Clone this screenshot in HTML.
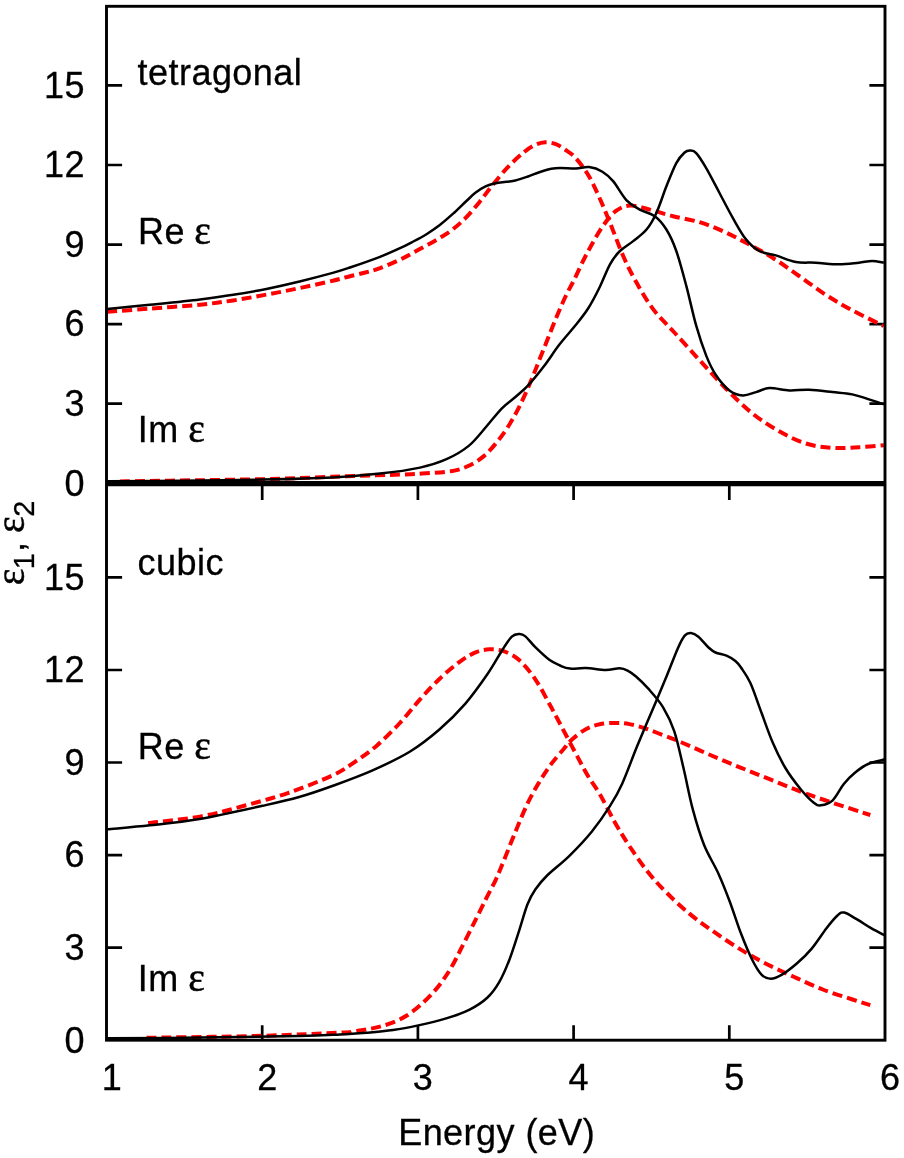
<!DOCTYPE html>
<html lang="en"><head><meta charset="utf-8"><title>Dielectric function</title>
<style>html,body{margin:0;padding:0;background:#fff}svg{display:block}</style></head>
<body>
<svg width="904" height="1158" viewBox="0 0 904 1158">
<rect width="904" height="1158" fill="#fff"/>
<clipPath id="ct"><rect x="106.5" y="6.3" width="778.5" height="479.0"/></clipPath>
<clipPath id="cb"><rect x="106.5" y="483.3" width="778.5" height="558.9"/></clipPath>
<path d="M106.5 403.7h15.6M885.0 403.7h-15.6M106.5 324.1h15.6M885.0 324.1h-15.6M106.5 244.6h15.6M885.0 244.6h-15.6M106.5 165.0h15.6M885.0 165.0h-15.6M106.5 85.4h15.6M885.0 85.4h-15.6M106.5 947.6h15.6M885.0 947.6h-15.6M106.5 855.1h15.6M885.0 855.1h-15.6M106.5 762.5h15.6M885.0 762.5h-15.6M106.5 670.0h15.6M885.0 670.0h-15.6M106.5 577.4h15.6M885.0 577.4h-15.6M262.2 1040.2v-15.0M262.2 484.3v15.8M417.9 1040.2v-15.0M417.9 484.3v15.8M573.6 1040.2v-15.0M573.6 484.3v15.8M729.3 1040.2v-15.0M729.3 484.3v15.8" stroke="#000" fill="none" stroke-width="2.7"/>
<path d="M107.3 311.8C114.4 311.3 134.4 309.8 149.8 308.6C165.2 307.4 186.1 306.1 200.0 304.7C213.9 303.3 222.1 302.1 233.2 300.4C244.3 298.7 255.3 296.7 266.4 294.6C277.5 292.6 288.6 290.4 299.6 288.1C310.7 285.8 324.3 282.7 332.7 280.7C341.1 278.7 344.4 277.6 350.0 276.2C355.6 274.8 361.4 273.6 366.4 272.3C371.4 271.0 374.4 270.3 380.0 268.2C385.6 266.1 394.4 262.2 400.0 259.6C405.6 257.0 408.9 255.0 413.3 252.6C417.7 250.2 422.1 247.8 426.5 245.4C430.9 243.0 435.4 240.6 439.8 237.9C444.2 235.2 448.7 232.6 453.1 229.1C457.5 225.6 462.0 221.7 466.4 217.2C470.8 212.7 475.4 207.0 479.6 201.9C483.8 196.8 486.9 192.2 491.5 186.5C496.1 180.8 502.1 173.2 507.4 167.6C512.7 161.9 518.8 156.4 523.4 152.6C528.0 148.8 531.6 146.6 535.3 144.9C538.9 143.2 542.0 142.5 545.3 142.3C548.6 142.1 551.9 142.7 555.2 143.9C558.5 145.1 561.6 147.1 565.0 149.5C568.4 151.9 571.8 153.6 575.8 158.1C579.8 162.6 585.1 169.6 589.1 176.4C593.1 183.2 596.5 191.3 600.0 199.0C603.5 206.7 606.1 213.3 610.0 222.8C613.9 232.3 618.8 246.0 623.2 256.0C627.6 266.0 631.5 273.8 636.5 282.6C641.5 291.5 647.0 301.0 653.1 309.1C659.2 317.2 665.2 322.5 673.0 331.0C680.8 339.5 690.8 350.6 699.6 360.2C708.5 369.8 717.2 379.9 726.1 388.8C735.0 397.7 743.9 406.6 752.7 413.7C761.6 420.8 770.4 426.3 779.2 431.3C788.1 436.3 796.9 440.7 805.8 443.5C814.6 446.3 823.4 447.3 832.3 447.9C841.1 448.5 850.3 447.6 858.9 447.2C867.5 446.8 879.6 445.5 883.8 445.2" fill="none" stroke="#f00" stroke-width="4" stroke-dasharray="10 5" clip-path="url(#ct)"/>
<path d="M120.0 481.4C133.3 481.2 173.5 480.6 200.0 480.2C226.5 479.8 254.8 479.5 279.0 478.8C303.2 478.1 324.8 476.9 345.0 476.2C365.2 475.5 387.1 475.0 400.0 474.6C412.9 474.2 413.7 474.2 422.2 473.6C430.7 473.0 443.2 472.5 451.0 471.2C458.8 469.9 463.2 468.4 468.7 465.8C474.2 463.2 479.4 459.9 484.2 455.9C489.0 451.8 493.3 446.5 497.4 441.5C501.4 436.5 504.8 431.9 508.5 426.0C512.2 420.1 515.9 413.5 519.6 406.1C523.3 398.7 527.3 389.6 530.6 381.8C533.9 374.1 536.5 367.0 539.5 359.6C542.5 352.2 545.3 344.9 548.3 337.5C551.2 330.1 554.2 322.4 557.2 315.4C560.2 308.4 563.2 301.3 566.0 295.5C568.8 289.7 570.2 287.6 573.8 280.5C577.3 273.4 582.5 261.6 587.3 252.7C592.1 243.8 597.7 233.7 602.4 226.8C607.1 219.9 611.0 214.7 615.6 211.2C620.2 207.7 624.2 205.9 629.9 205.6C635.6 205.3 642.6 207.8 649.8 209.6C657.0 211.4 664.7 214.1 673.0 216.2C681.3 218.3 691.3 219.7 699.6 222.2C707.9 224.7 715.1 227.7 722.8 231.1C730.5 234.5 737.7 238.4 746.0 242.8C754.3 247.2 763.8 252.2 772.6 257.7C781.5 263.2 790.2 269.8 799.1 276.0C808.0 282.2 816.9 289.1 825.7 294.8C834.6 300.5 842.5 305.1 852.2 310.3C861.9 315.5 878.5 323.4 883.8 326.0" fill="none" stroke="#f00" stroke-width="4" stroke-dasharray="10 5" clip-path="url(#ct)"/>
<path d="M107.3 309.1C114.4 308.4 134.4 306.4 149.8 304.8C165.2 303.2 186.1 301.1 200.0 299.4C213.9 297.7 222.1 296.6 233.2 294.8C244.3 293.1 255.3 291.1 266.4 288.9C277.5 286.7 288.6 284.2 299.6 281.5C310.7 278.8 324.3 275.2 332.7 272.9C341.1 270.6 342.1 270.2 350.0 267.5C357.9 264.8 371.7 260.0 380.0 256.8C388.3 253.6 394.4 250.8 400.0 248.2C405.6 245.6 408.9 243.8 413.3 241.5C417.7 239.2 422.1 236.9 426.5 234.2C430.9 231.4 435.4 228.4 439.8 225.0C444.2 221.6 448.7 217.7 453.1 213.7C457.5 209.7 462.6 204.5 466.4 201.0C470.2 197.5 472.5 195.0 475.7 192.6C478.9 190.2 482.2 187.9 485.5 186.4C488.8 184.9 492.2 184.1 495.6 183.3C499.1 182.5 502.9 182.3 506.2 181.8C509.5 181.3 511.9 181.3 515.4 180.5C518.9 179.7 523.4 178.1 527.4 176.7C531.4 175.3 535.3 173.5 539.3 172.2C543.3 170.9 547.8 169.5 551.3 168.8C554.8 168.1 555.9 168.0 560.0 167.9C564.1 167.8 570.9 168.5 575.8 168.4C580.6 168.3 584.7 166.6 589.1 167.1C593.5 167.6 598.4 169.3 602.4 171.7C606.4 174.1 609.3 176.6 613.3 181.4C617.3 186.2 622.2 195.6 626.6 200.3C631.0 205.0 635.1 206.9 639.8 209.6C644.5 212.2 650.4 212.9 654.8 216.2C659.2 219.5 662.8 223.7 666.4 229.5C670.0 235.3 673.0 241.6 676.3 251.0C679.6 260.4 683.0 273.4 686.3 285.9C689.6 298.3 692.9 314.1 696.2 325.7C699.5 337.3 702.9 347.3 706.2 355.6C709.5 363.9 712.3 369.7 716.2 375.5C720.1 381.3 725.0 387.1 729.4 390.4C733.8 393.7 738.3 395.1 742.7 395.4C747.1 395.7 751.6 393.3 756.0 392.1C760.4 390.9 763.8 388.4 769.3 388.1C774.8 387.8 782.6 390.1 789.2 390.4C795.8 390.7 801.9 389.5 809.1 389.8C816.3 390.1 825.1 391.3 832.3 392.1C839.5 392.9 845.6 393.0 852.2 394.4C858.8 395.8 866.8 398.7 872.1 400.4C877.4 402.1 881.8 403.7 883.8 404.4" fill="none" stroke="#000" stroke-width="2.5" stroke-linejoin="round" clip-path="url(#ct)"/>
<path d="M107.3 481.3C119.4 481.2 154.1 481.1 180.0 480.8C205.9 480.5 237.2 480.2 262.6 479.6C288.0 479.1 312.7 478.5 332.3 477.5C351.9 476.5 365.4 475.2 380.0 473.6C394.6 472.0 408.9 470.0 420.0 467.6C431.1 465.2 438.4 462.8 446.5 459.2C454.6 455.6 462.1 451.3 468.7 445.9C475.3 440.4 480.9 432.8 486.4 426.5C491.9 420.2 497.1 413.2 501.9 408.3C506.7 403.4 510.7 401.2 515.1 397.3C519.5 393.4 523.6 390.3 528.4 385.1C533.2 379.9 538.7 373.1 543.9 366.3C549.1 359.6 554.2 351.3 559.4 344.6C564.6 337.9 570.1 332.0 574.9 326.0C579.7 320.0 583.9 315.1 588.1 308.5C592.3 301.9 596.4 293.9 600.0 286.5C603.6 279.1 606.7 270.2 610.0 264.3C613.3 258.4 616.0 254.9 619.9 251.0C623.8 247.1 628.8 244.7 633.2 241.1C637.6 237.5 642.6 234.2 646.5 229.5C650.4 224.8 653.1 220.1 656.4 212.9C659.7 205.7 663.1 194.6 666.4 186.3C669.7 178.0 673.3 168.7 676.3 163.1C679.3 157.5 682.3 154.6 684.6 152.5C686.9 150.4 688.4 150.4 690.3 150.5C692.2 150.6 693.6 150.2 696.2 153.1C698.9 156.0 702.3 161.4 706.2 168.1C710.1 174.8 715.1 184.7 719.5 193.0C723.9 201.3 728.4 210.2 732.8 217.9C737.2 225.6 741.6 233.9 746.0 239.4C750.4 244.9 754.3 248.3 759.3 251.0C764.3 253.7 769.8 253.6 775.9 255.4C782.0 257.2 789.2 260.8 795.8 262.0C802.4 263.2 808.5 262.3 815.7 262.7C822.9 263.1 831.8 264.3 839.0 264.3C846.2 264.3 853.4 263.2 858.9 262.7C864.4 262.1 868.0 261.0 872.1 261.0C876.2 261.0 881.8 262.4 883.8 262.7" fill="none" stroke="#000" stroke-width="2.5" stroke-linejoin="round" clip-path="url(#ct)"/>
<path d="M148.1 823.0C156.8 821.9 184.0 819.5 200.0 816.6C216.0 813.7 229.4 809.8 244.2 805.8C258.9 801.8 273.8 797.9 288.5 792.8C303.2 787.7 321.6 780.4 332.7 775.3C343.8 770.1 347.5 766.9 354.9 761.9C362.3 756.9 369.5 751.9 377.0 745.4C384.5 738.9 392.8 730.6 399.9 723.0C407.0 715.4 413.2 707.0 419.8 699.6C426.4 692.2 433.1 685.0 439.7 678.7C446.3 672.4 453.6 666.2 459.6 661.8C465.6 657.4 470.6 654.5 475.6 652.4C480.6 650.3 484.9 649.5 489.5 649.3C494.1 649.1 498.5 649.4 503.5 651.2C508.5 653.0 514.1 655.6 519.4 660.3C524.7 665.0 530.3 672.0 535.3 679.3C540.3 686.5 545.2 696.4 549.3 703.8C553.4 711.2 555.1 714.6 559.9 723.5C564.6 732.4 573.1 748.6 577.8 757.4C582.5 766.1 584.3 769.8 588.0 776.0C591.7 782.2 595.5 786.8 600.0 794.5C604.5 802.2 609.9 813.7 614.9 822.4C619.9 831.1 624.1 838.1 629.7 846.5C635.3 854.9 642.1 864.8 648.3 872.5C654.5 880.2 660.0 886.1 666.8 892.9C673.6 899.7 681.7 907.2 689.1 913.4C696.5 919.6 703.4 924.4 711.4 930.1C719.4 935.8 728.7 942.1 737.4 947.5C746.1 952.9 754.1 957.6 763.4 962.4C772.7 967.2 783.2 972.0 793.1 976.5C803.0 981.0 812.9 985.7 822.8 989.5C832.7 993.3 844.6 996.9 852.5 999.5C860.4 1002.1 867.3 1004.2 870.3 1005.1" fill="none" stroke="#f00" stroke-width="4" stroke-dasharray="10 5" clip-path="url(#cb)"/>
<path d="M146.5 1037.8C165.8 1037.5 230.4 1036.7 262.6 1035.8C294.9 1034.9 324.9 1033.3 340.0 1032.6C355.1 1031.9 348.9 1031.9 353.3 1031.4C357.7 1030.9 362.1 1030.3 366.5 1029.5C370.9 1028.7 375.4 1027.8 379.8 1026.6C384.2 1025.4 388.7 1024.2 393.1 1022.4C397.5 1020.6 402.0 1018.6 406.4 1015.8C410.8 1013.0 415.2 1009.6 419.6 1005.8C424.0 1002.0 428.9 997.2 432.9 992.8C436.9 988.4 440.2 984.2 443.5 979.5C446.8 974.8 449.8 970.1 452.8 964.8C455.8 959.5 458.1 954.5 461.6 947.7C465.1 940.9 469.6 931.8 473.6 923.8C477.6 915.8 481.9 907.1 485.5 899.9C489.1 892.6 492.5 886.7 495.5 880.3C498.5 873.9 500.2 869.6 503.5 861.5C506.8 853.4 511.5 841.2 515.5 831.6C519.5 822.0 523.4 812.1 527.4 803.8C531.4 795.5 535.4 788.5 539.4 781.9C543.4 775.2 547.3 769.3 551.3 763.9C555.3 758.5 559.8 753.6 563.3 749.5C566.8 745.4 568.2 742.9 572.0 739.5C575.8 736.1 581.2 731.7 585.8 729.2C590.4 726.7 594.7 725.3 599.7 724.3C604.7 723.2 610.7 722.9 615.7 722.9C620.7 722.9 624.6 723.2 629.6 724.1C634.6 725.0 639.9 726.6 645.5 728.5C651.1 730.4 657.5 733.0 663.5 735.3C669.5 737.6 673.7 739.1 681.7 742.5C689.7 745.9 701.5 751.3 711.4 755.5C721.3 759.7 731.2 763.8 741.1 767.8C751.0 771.8 760.9 775.7 770.8 779.7C780.7 783.7 790.6 787.9 800.5 791.6C810.4 795.3 818.6 798.1 830.2 802.0C841.8 805.9 863.6 812.8 870.3 815.0" fill="none" stroke="#f00" stroke-width="4" stroke-dasharray="10 5" clip-path="url(#cb)"/>
<path d="M107.3 829.3C114.4 828.6 134.4 827.0 149.8 825.3C165.2 823.6 180.8 822.2 199.6 819.0C218.4 815.8 246.0 809.5 262.6 805.8C279.2 802.1 287.5 800.3 299.1 797.0C310.7 793.7 320.2 790.4 332.3 786.0C344.4 781.6 359.1 776.3 372.0 770.6C384.9 764.9 398.5 758.6 409.7 751.8C420.9 744.9 430.1 737.5 439.4 729.5C448.7 721.5 457.3 712.9 465.4 703.6C473.4 694.3 481.5 682.8 487.7 673.8C493.9 664.8 498.5 655.9 502.5 649.7C506.5 643.5 509.0 639.3 511.8 636.7C514.6 634.1 517.0 634.2 519.3 634.1C521.6 634.0 522.7 634.2 525.4 636.4C528.1 638.6 531.3 643.3 535.3 647.2C539.3 651.1 545.2 656.8 549.3 659.8C553.4 662.8 556.6 664.0 560.0 665.5C563.4 667.0 565.6 668.2 569.9 668.6C574.2 669.0 579.8 667.9 585.8 668.1C591.8 668.3 600.1 670.0 605.7 670.0C611.3 670.0 616.0 668.2 619.6 668.3C623.2 668.4 624.9 669.2 627.6 670.6C630.3 672.0 632.5 673.5 636.0 676.5C639.5 679.5 643.8 683.6 648.3 688.7C652.8 693.8 658.8 700.2 663.1 707.3C667.4 714.4 670.9 721.2 674.3 731.4C677.7 741.6 680.5 755.5 683.6 768.5C686.7 781.5 689.4 796.7 692.8 809.4C696.2 822.1 699.7 833.9 704.0 844.7C708.3 855.5 714.5 864.8 718.8 874.4C723.1 884.0 726.3 892.3 730.0 902.2C733.7 912.1 737.4 924.2 741.1 933.8C744.8 943.4 748.8 953.0 752.2 959.8C755.6 966.6 758.4 971.5 761.5 974.6C764.6 977.8 767.4 978.7 770.8 978.7C774.2 978.7 777.7 977.1 782.0 974.6C786.3 972.1 791.8 967.8 796.8 963.5C801.8 959.2 806.8 954.5 811.7 948.6C816.7 942.7 822.2 933.8 826.5 928.2C830.8 922.6 834.7 917.8 837.7 915.2C840.7 912.6 841.2 912.0 844.3 912.6C847.4 913.2 851.7 916.3 856.2 918.9C860.7 921.5 866.3 925.4 871.1 928.2C875.9 931.0 882.9 934.4 885.2 935.6" fill="none" stroke="#000" stroke-width="2.5" stroke-linejoin="round" clip-path="url(#cb)"/>
<path d="M107.3 1038.3C122.8 1038.2 168.0 1038.0 200.0 1037.6C232.0 1037.2 275.8 1036.5 299.1 1036.0C322.4 1035.5 328.8 1035.0 340.0 1034.5C351.2 1034.0 357.6 1033.5 366.5 1032.8C375.4 1032.0 384.5 1031.2 393.1 1030.0C401.7 1028.8 409.5 1027.3 418.3 1025.4C427.1 1023.5 437.6 1021.0 446.2 1018.4C454.8 1015.8 462.7 1013.1 469.6 1009.6C476.5 1006.1 482.5 1002.2 487.5 997.5C492.5 992.8 495.9 987.9 499.5 981.6C503.1 975.3 506.1 968.3 509.4 959.7C512.7 951.1 516.4 939.0 519.4 929.8C522.4 920.6 524.8 911.2 527.4 904.5C530.0 897.8 532.0 894.3 535.3 889.5C538.6 884.7 541.4 881.1 547.1 875.5C552.8 869.9 562.0 863.1 569.4 855.8C576.8 848.5 584.9 840.1 591.7 831.7C598.5 823.4 605.1 813.8 610.2 805.7C615.3 797.7 617.8 793.3 622.3 783.4C626.8 773.5 632.1 758.4 637.1 746.3C642.1 734.2 647.0 722.8 652.0 711.0C657.0 699.2 662.5 686.2 666.8 675.7C671.1 665.2 675.0 654.6 678.0 647.9C681.0 641.2 682.5 638.1 684.7 635.6C686.9 633.1 688.7 632.8 691.0 633.0C693.3 633.2 695.4 634.2 698.4 636.7C701.4 639.2 705.9 645.1 708.8 647.7C711.6 650.3 712.5 651.2 715.5 652.5C718.5 653.8 723.2 654.2 726.5 655.6C729.8 657.0 733.0 659.0 735.4 661.0C737.8 663.0 738.5 663.8 741.0 667.5C743.5 671.2 747.0 675.6 750.4 683.1C753.8 690.6 757.8 702.9 761.5 712.8C765.2 722.7 768.7 733.2 772.7 742.5C776.7 751.8 781.1 760.8 785.7 768.5C790.3 776.2 795.9 783.3 800.5 789.0C805.1 794.7 810.1 799.8 813.5 802.5C816.9 805.2 817.8 805.7 821.0 805.3C824.2 804.9 828.9 803.8 832.7 800.3C836.5 796.8 840.1 788.6 843.8 784.0C847.5 779.4 850.8 776.0 854.9 772.7C859.0 769.4 863.0 766.2 868.1 764.0C873.2 761.8 882.4 760.1 885.2 759.3" fill="none" stroke="#000" stroke-width="2.5" stroke-linejoin="round" clip-path="url(#cb)"/>
<g stroke="#000" fill="none">
<rect x="106.5" y="6.3" width="778.5" height="1033.9" stroke-width="2.9"/>
<line x1="106.5" y1="483.6" x2="885.0" y2="483.6" stroke-width="5.2"/>
</g>
<g font-family="'Liberation Sans', sans-serif" font-size="36" fill="#000" stroke="#000" stroke-width="0.3" letter-spacing="0.45">
<text x="85" y="415.9" text-anchor="end">3</text>
<text x="85" y="336.3" text-anchor="end">6</text>
<text x="85" y="256.8" text-anchor="end">9</text>
<text x="85" y="177.2" text-anchor="end">12</text>
<text x="85" y="97.6" text-anchor="end">15</text>
<text x="85" y="495.5" text-anchor="end">0</text>
<text x="85" y="959.8" text-anchor="end">3</text>
<text x="85" y="867.3" text-anchor="end">6</text>
<text x="85" y="774.7" text-anchor="end">9</text>
<text x="85" y="682.2" text-anchor="end">12</text>
<text x="85" y="589.6" text-anchor="end">15</text>
<text x="85" y="1053.4" text-anchor="end">0</text>
<text x="112.0" y="1089.5" text-anchor="middle">1</text>
<text x="267.4" y="1089.5" text-anchor="middle">2</text>
<text x="423.1" y="1089.5" text-anchor="middle">3</text>
<text x="578.8" y="1089.5" text-anchor="middle">4</text>
<text x="734.5" y="1089.5" text-anchor="middle">5</text>
<text x="890.2" y="1089.5" text-anchor="middle">6</text>
<text x="398.2" y="1144.7">Energy (eV)</text>
<text x="137.6" y="85">tetragonal</text>
<text x="137.6" y="575.2">cubic</text>
<text x="138.0" y="244.0">Re <tspan x="194.3" font-family="'Liberation Serif', 'DejaVu Serif', serif" font-size="39.5" stroke-width="0.5" letter-spacing="0">ε</tspan></text>
<text x="137.7" y="442.2">Im <tspan x="188.2" font-family="'Liberation Serif', 'DejaVu Serif', serif" font-size="39.5" stroke-width="0.5" letter-spacing="0">ε</tspan></text>
<text x="137.8" y="759.3">Re <tspan x="194.2" font-family="'Liberation Serif', 'DejaVu Serif', serif" font-size="39.5" stroke-width="0.5" letter-spacing="0">ε</tspan></text>
<text x="137.7" y="990.9">Im <tspan x="188.2" font-family="'Liberation Serif', 'DejaVu Serif', serif" font-size="39.5" stroke-width="0.5" letter-spacing="0">ε</tspan></text>
<text transform="translate(23.7 584) rotate(-90)"><tspan x="-1.2" y="0" font-family="'Liberation Serif', 'DejaVu Serif', serif" font-size="39.5" stroke-width="0.5" letter-spacing="0">ε</tspan><tspan x="14.8" y="10.2" font-size="29">1</tspan><tspan x="32" y="0">, </tspan><tspan x="51" y="0" font-family="'Liberation Serif', 'DejaVu Serif', serif" font-size="39.5" stroke-width="0.5" letter-spacing="0">ε</tspan><tspan x="67.3" y="10.2" font-size="29">2</tspan></text>
</g>
</svg>
</body></html>
